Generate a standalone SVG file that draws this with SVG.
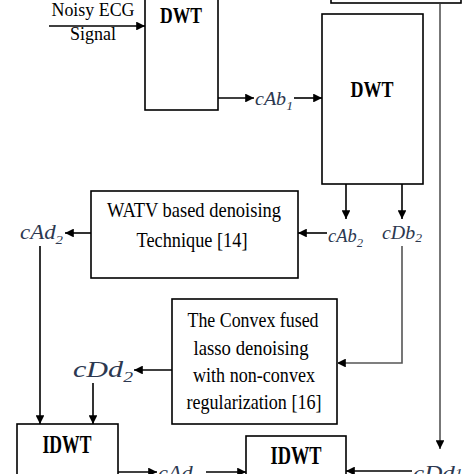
<svg xmlns="http://www.w3.org/2000/svg" width="474" height="474" viewBox="0 0 474 474">
<style>
.box{fill:#fff;stroke:#000;stroke-width:1.6}
.t{fill:#000;text-anchor:middle}
.b{font-weight:bold}
.lab{font-style:italic;fill:#2c3850}
.c{fill:none;stroke:#000;stroke-width:1.6}
.g{stroke:#555}
</style>
<defs>
<marker id="ah" viewBox="0 0 10 10" refX="10" refY="5" markerWidth="5.5" markerHeight="5.5" orient="auto" markerUnits="strokeWidth">
<path d="M0,0 L10,5 L0,10 z" fill="#000"/>
</marker>
</defs>
<rect width="474" height="474" fill="#fff"/>

<g font-family="Liberation Serif, Times New Roman, serif">
<g id="topbox"><rect class="box" x="331" y="-20" width="130" height="23"/></g>

<g id="dwt1">
<rect class="box" x="145" y="-10" width="73" height="120"/>
<text class="t b" x="181" y="23" font-size="24" textLength="42" lengthAdjust="spacingAndGlyphs">DWT</text>
</g>

<g id="input">
<text class="t" x="93" y="16" font-size="19" textLength="83" lengthAdjust="spacingAndGlyphs">Noisy ECG</text>
<text class="t" x="93" y="40" font-size="19" textLength="46" lengthAdjust="spacingAndGlyphs">Signal</text>
</g>

<g id="dwt2">
<rect class="box" x="322" y="14" width="101" height="170"/>
<text class="t b" x="372" y="97" font-size="24" textLength="43" lengthAdjust="spacingAndGlyphs">DWT</text>
</g>

<g id="watv">
<rect class="box" x="91" y="191" width="207" height="87"/>
<text class="t" x="194" y="217" font-size="21" textLength="174" lengthAdjust="spacingAndGlyphs">WATV based denoising</text>
<text class="t" x="192" y="247" font-size="21" textLength="111" lengthAdjust="spacingAndGlyphs">Technique [14]</text>
</g>

<g id="convex">
<rect class="box" x="172" y="299" width="165" height="125"/>
<text class="t" x="253" y="327" font-size="21" textLength="131" lengthAdjust="spacingAndGlyphs">The Convex fused</text>
<text class="t" x="251" y="355" font-size="21" textLength="115" lengthAdjust="spacingAndGlyphs">lasso denoising</text>
<text class="t" x="254" y="382" font-size="21" textLength="122" lengthAdjust="spacingAndGlyphs">with non-convex</text>
<text class="t" x="254" y="409" font-size="21" textLength="135" lengthAdjust="spacingAndGlyphs">regularization [16]</text>
</g>

<g id="idwt1">
<rect class="box" x="17" y="424" width="101" height="70"/>
<text class="t b" x="67" y="453" font-size="25" textLength="49" lengthAdjust="spacingAndGlyphs">IDWT</text>
</g>

<g id="idwt2">
<rect class="box" x="246" y="436" width="100" height="60"/>
<text class="t b" x="296" y="464" font-size="25" textLength="51" lengthAdjust="spacingAndGlyphs">IDWT</text>
</g>

<g id="labels">
<text class="lab" x="255" y="105" font-size="19" textLength="38" lengthAdjust="spacingAndGlyphs">cAb<tspan font-size="13" dy="5">1</tspan></text>
<text class="lab" x="328" y="242" font-size="19" textLength="35" lengthAdjust="spacingAndGlyphs">cAb<tspan font-size="13" dy="5">2</tspan></text>
<text class="lab" x="382" y="239" font-size="19" textLength="40" lengthAdjust="spacingAndGlyphs">cDb<tspan font-size="13" dy="3">2</tspan></text>
<text class="lab" x="20" y="239" font-size="20" textLength="43" lengthAdjust="spacingAndGlyphs">cAd<tspan font-size="13" dy="5">2</tspan></text>
<text class="lab" x="73" y="377" font-size="23" textLength="60" lengthAdjust="spacingAndGlyphs" fill="#42526f">cDd<tspan font-size="15" dy="5">2</tspan></text>
<text class="lab" x="158" y="480" font-size="20" textLength="42" lengthAdjust="spacingAndGlyphs">cAd<tspan font-size="13" dy="4">1</tspan></text>
<text class="lab" x="413" y="480" font-size="20" textLength="50" lengthAdjust="spacingAndGlyphs">cDd<tspan font-size="13" dy="-3">1</tspan></text>
</g>
</g>

<g id="connectors">
<line class="c" x1="49" y1="26" x2="145" y2="26" marker-end="url(#ah)"/>
<line class="c" x1="218" y1="98" x2="254" y2="98" marker-end="url(#ah)"/>
<line class="c" x1="294" y1="98" x2="322" y2="98" marker-end="url(#ah)"/>
<line class="c" x1="346" y1="184" x2="346" y2="219" marker-end="url(#ah)"/>
<line class="c" x1="402" y1="184" x2="402" y2="219" marker-end="url(#ah)"/>
<line class="c" x1="327" y1="233" x2="298" y2="233" marker-end="url(#ah)"/>
<line class="c" x1="91" y1="233" x2="65" y2="233" marker-end="url(#ah)"/>
<line class="c" x1="40" y1="246" x2="40" y2="424" marker-end="url(#ah)"/>
<polyline class="c g" points="402,246 402,363 337,363" marker-end="url(#ah)"/>
<line class="c" x1="172" y1="370" x2="134" y2="370" marker-end="url(#ah)"/>
<line class="c" x1="93" y1="383" x2="93" y2="424" marker-end="url(#ah)"/>
<line class="c g" x1="440" y1="4" x2="440" y2="449" marker-end="url(#ah)"/>
<line class="c" x1="118" y1="472" x2="157" y2="472" stroke-width="2.4" marker-end="url(#ah)"/>
<line class="c" x1="206" y1="472" x2="246" y2="472" marker-end="url(#ah)"/>
<line class="c" x1="412" y1="471" x2="346" y2="471" stroke-width="2" marker-end="url(#ah)"/>
</g>
</svg>
